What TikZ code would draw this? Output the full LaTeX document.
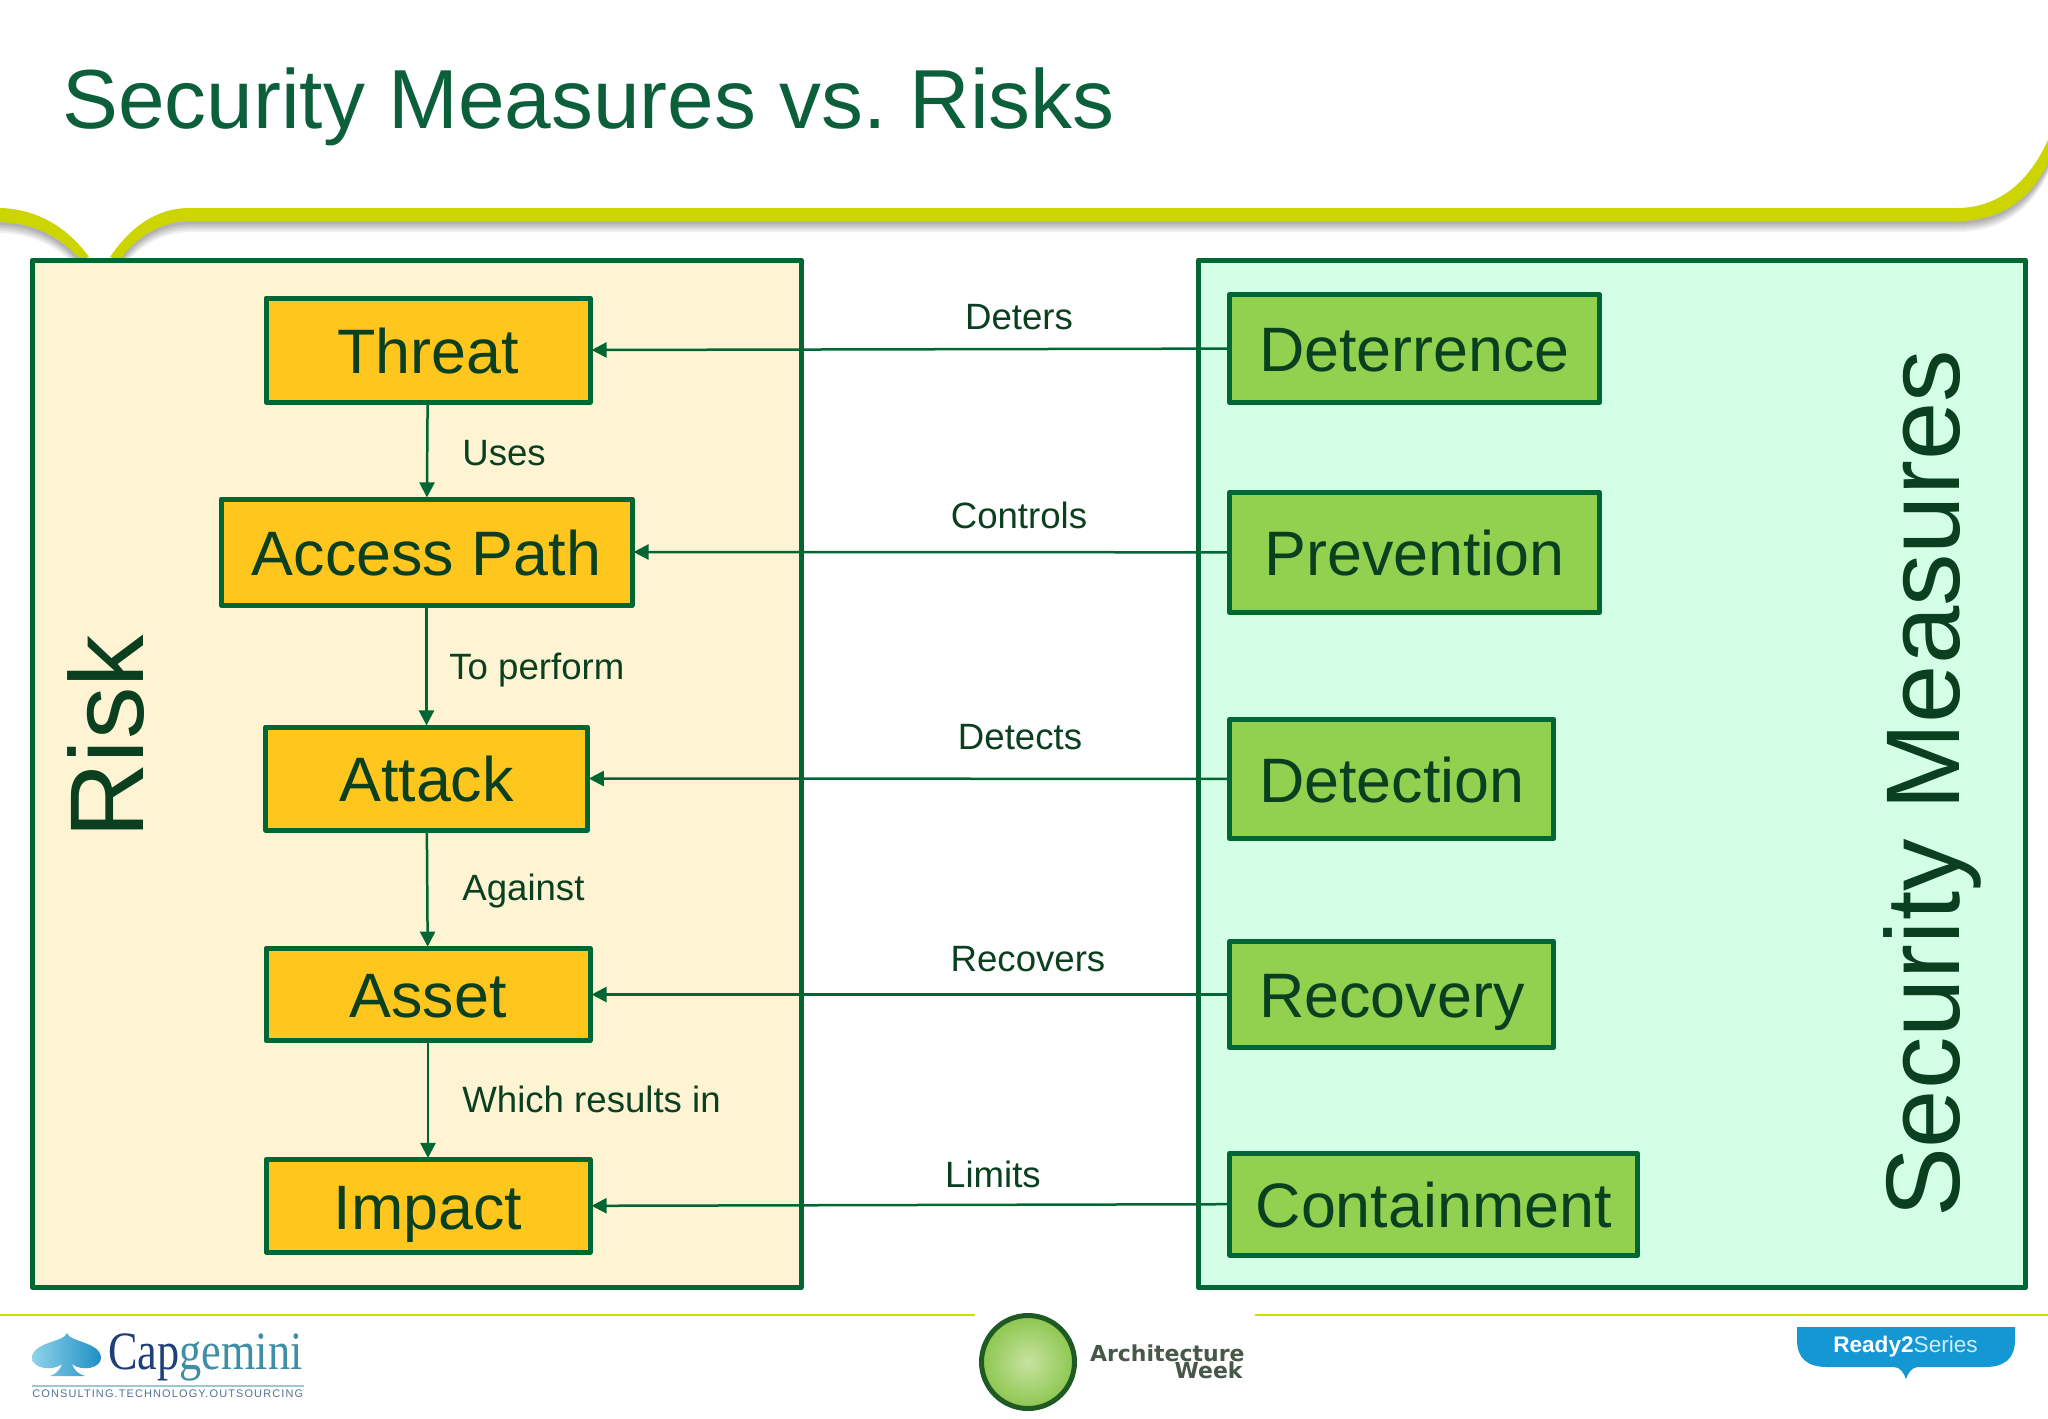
\documentclass[tikz,border=0pt]{standalone}
\usepackage{fontspec}
\setmainfont{Liberation Sans}
\newfontfamily\serifmark{Liberation Serif}
\newfontfamily\spacedmark[LetterSpace=10]{Liberation Sans}
\newfontfamily\widemark{DejaVu Sans}
\usetikzlibrary{arrows.meta,shadings}
\definecolor{framegreen}{HTML}{006633}
\definecolor{titlegreen}{HTML}{0B5F3A}
\definecolor{textgreen}{HTML}{0A3F1F}
\definecolor{riskfill}{HTML}{FEF3D3}
\definecolor{measurefill}{HTML}{D3FFE7}
\definecolor{amberfill}{HTML}{FFC61E}
\definecolor{leaffill}{HTML}{92D050}
\definecolor{limeband}{HTML}{CCD500}
\definecolor{capnavy}{HTML}{1F3F78}
\definecolor{capteal}{HTML}{3E8FA5}
\definecolor{capgrey}{HTML}{5A6E94}
\definecolor{spadelight}{HTML}{8FD3EA}
\definecolor{spadedark}{HTML}{1F8FC4}
\definecolor{orbring}{HTML}{1F5A24}
\definecolor{orbcore}{HTML}{C8E3A0}
\definecolor{orbedge}{HTML}{8CC64F}
\definecolor{archgrey}{HTML}{47584A}
\definecolor{readyblue}{HTML}{1597D3}
\newcommand{\bandshape}{(0,208) .. controls (38,209) and (68,228) .. (89,257) -- (78,257) .. controls (58,236) and (34,223) .. (0,222) -- cycle
	(110,257) .. controls (130,228) and (155,208) .. (190,208) -- (1957,208) .. controls (2000,208) and (2030,180) .. (2048,140) -- (2048,163) .. controls (2030,200) and (2000,221) .. (1957,221) -- (190,221) .. controls (160,222) and (138,236) .. (122,257) -- cycle}
\tikzset{
	panel/.style={draw=framegreen,line width=2.5pt,line join=round},
	boxsize/.style 2 args={minimum width=#1*0.5pt,minimum height=#2*0.5pt},
	basebox/.style={draw=framegreen,line width=2.5pt,line join=round,inner sep=0pt,outer sep=0.8pt,text=textgreen,
		font=\fontsize{31.4}{31.4}\selectfont,text height=23.3pt,text depth=0pt},
	riskbox/.style={basebox,fill=amberfill},
	measurebox/.style={basebox,fill=leaffill},
	linklabel/.style={inner sep=0pt,text=textgreen,font=\fontsize{18.3}{18.3}\selectfont,text height=12.9pt,text depth=0pt},
	sidetitle/.style={inner sep=0pt,rotate=90,text=textgreen,font=\fontsize{52.4}{52.4}\selectfont,text height=37.4pt,text depth=0pt},
	logoword/.style={anchor=base east,inner sep=0pt,text=archgrey,font=\widemark\bfseries\fontsize{11}{11}\selectfont,text height=8pt,text depth=0pt},
	link/.style={draw=framegreen,line width=1.25pt,-{Triangle[length=7.5pt,width=7.5pt]}},
}
\begin{document}
\frenchspacing
\begin{tikzpicture}[x=0.5pt,y=-0.5pt]
	\useasboundingbox (0,0) rectangle (2048,1418);
	\fill[white] (0,0) rectangle (2048,1418);

	\foreach \d/\g in {11/6,9/12,7/18,5/24,3/30}
		\fill[black!\g,shift={(0,\d)}] \bandshape;
	\fill[limeband] \bandshape;

	\node[anchor=base west,inner sep=0pt,text=titlegreen,font=\fontsize{41.9}{41.9}\selectfont] (title) at (62,128) {Security Measures vs. Risks};

	\draw[panel,fill=riskfill] (32.5,260) rectangle (801,1287.5);
	\draw[panel,fill=measurefill] (1198.5,260) rectangle (2025.5,1287.5);

	\node[sidetitle] (risk) at (106,737) {Risk};
	\node[sidetitle] (measures) at (1922,784) {Security Measures};

	\node[riskbox,boxsize={324}{104}] (threat) at (428,350) {Threat};
	\node[riskbox,boxsize={411}{106}] (accesspath) at (426.5,552) {Access Path};
	\node[riskbox,boxsize={321.5}{103}] (attack) at (426.5,778.5) {Attack};
	\node[riskbox,boxsize={324}{92.5}] (asset) at (428,994.5) {Asset};
	\node[riskbox,boxsize={324}{92.5}] (impact) at (428,1205.8) {Impact};

	\node[measurebox,boxsize={369.5}{108}] (deterrence) at (1414.5,348.6) {Deterrence};
	\node[measurebox,boxsize={369.5}{120}] (prevention) at (1414.5,552.3) {Prevention};
	\node[measurebox,boxsize={324}{119.6}] (detection) at (1391.8,778.9) {Detection};
	\node[measurebox,boxsize={324}{106}] (recovery) at (1391.8,994.5) {Recovery};
	\node[measurebox,boxsize={407.7}{102}] (containment) at (1433.7,1204.2) {Containment};

	\draw[link] (threat)--(accesspath);
	\draw[link] (accesspath)--(attack);
	\draw[link] (attack)--(asset);
	\draw[link] (asset)--(impact);
	\draw[link] (deterrence.west)--(threat.east);
	\draw[link] (prevention.west)--(accesspath.east);
	\draw[link] (detection.west)--(attack.east);
	\draw[link] (recovery.west)--(asset.east);
	\draw[link] (containment.west)--(impact.east);

	\node[linklabel,anchor=west] (uses) at (462,453) {Uses};
	\node[linklabel,anchor=west] (toperform) at (449,667) {To perform};
	\node[linklabel,anchor=west] (against) at (462,888) {Against};
	\node[linklabel,anchor=west] (whichresults) at (462,1100) {Which results in};
	\node[linklabel] (deters) at (1019,317) {Deters};
	\node[linklabel] (controls) at (1019,516) {Controls};
	\node[linklabel] (detects) at (1020,737) {Detects};
	\node[linklabel] (recovers) at (1028,959) {Recovers};
	\node[linklabel] (limits) at (993,1175) {Limits};

	\draw[limeband!85!yellow,line width=1pt] (0,1315)--(975,1315) (1255,1315)--(2048,1315);

	\shade[left color=spadelight,right color=spadedark] (67,1333) .. controls (65,1342) and (32,1342) .. (32,1358) .. controls (32,1368) and (52,1372) .. (62,1364) .. controls (60,1370) and (56,1374) .. (50,1376) -- (85,1376) .. controls (78,1374) and (74,1370) .. (72,1364) .. controls (82,1372) and (101,1368) .. (101,1358) .. controls (101,1342) and (69,1342) .. (67,1333) -- cycle;
	\node[anchor=base west,inner sep=0pt,font=\serifmark\fontsize{27}{27}\selectfont] (capgemini) at (108,1369) {\scalebox{0.82}[1]{\textcolor{capnavy}{Cap}\textcolor{capteal}{gemini}}};
	\draw[capteal!50,line width=0.6pt] (32,1386)--(304,1386);
	\node[anchor=west,inner sep=0pt,text=capgrey,font=\spacedmark\fontsize{5.5}{5.5}\selectfont] (capline) at (32,1394) {CONSULTING.TECHNOLOGY.OUTSOURCING};

	\shade[inner color=orbcore,outer color=orbedge,draw=orbring,line width=2.5pt] (1028,1362) circle (46.5);
	\node[logoword] (archword) at (1245,1361) {Architecture};
	\node[logoword] (weekword) at (1243,1378) {Week};

	\fill[readyblue] (1797,1327) -- (2015,1327) -- (2015,1340) .. controls (2015,1358) and (2005,1367) .. (1985,1367) -- (1918,1367) .. controls (1912,1367) and (1908,1373) .. (1906,1379) .. controls (1904,1373) and (1900,1367) .. (1894,1367) -- (1827,1367) .. controls (1807,1367) and (1797,1358) .. (1797,1340) -- cycle;
	\node[inner sep=0pt,text=white,font=\fontsize{11.3}{11.3}\selectfont] (readyword) at (1905.5,1347) {\textbf{Ready2}\textcolor{white!80!cyan}{Series}};
\end{tikzpicture}
\end{document}
